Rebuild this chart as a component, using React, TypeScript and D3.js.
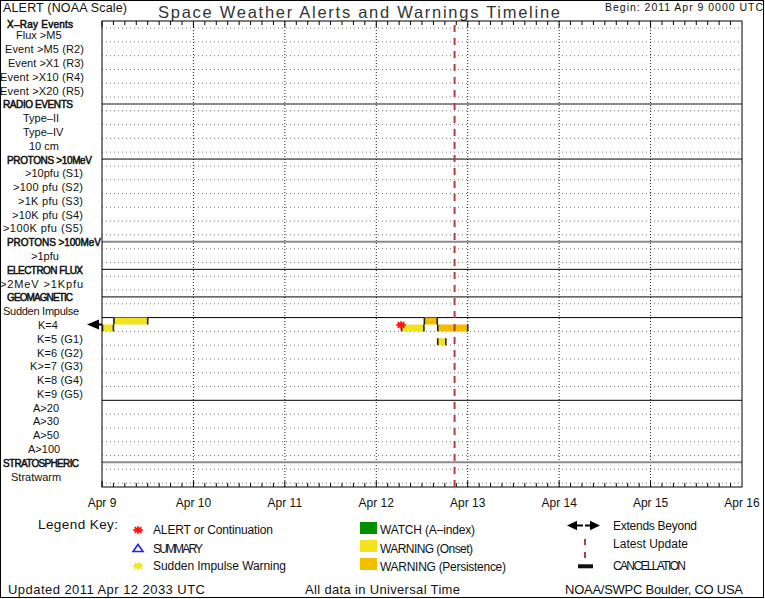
import React from "react";
import * as d3 from "d3";

// ---------- data ----------
const rowLabels = [
  "X\u2013Ray Events", "Flux >M5", "Event >M5 (R2)", "Event >X1 (R3)", "Event >X10 (R4)", "Event >X20 (R5)",
  "RADIO EVENTS", "Type\u2013II", "Type\u2013IV", "10 cm",
  "PROTONS >10MeV", ">10pfu (S1)", ">100 pfu (S2)", ">1K pfu (S3)", ">10K pfu (S4)", ">100K pfu (S5)",
  "PROTONS >100MeV", ">1pfu",
  "ELECTRON FLUX", ">2MeV >1Kpfu",
  "GEOMAGNETIC", "Sudden Impulse", "K=4", "K=5 (G1)", "K=6 (G2)", "K>=7 (G3)", "K=8 (G4)", "K=9 (G5)",
  "A>20", "A>30", "A>50", "A>100",
  "STRATOSPHERIC", "Stratwarm",
];
const headerLabels = ["X\u2013Ray Events", "RADIO EVENTS", "PROTONS >10MeV", "PROTONS >100MeV", "ELECTRON FLUX", "GEOMAGNETIC", "STRATOSPHERIC"];
const dayLabels = ["Apr 9", "Apr 10", "Apr 11", "Apr 12", "Apr 13", "Apr 14", "Apr 15", "Apr 16"];
const timelineStart = "2011-04-09T00:00:00Z";
const timelineEnd = "2011-04-16T00:00:00Z";
const latestUpdate = "2011-04-12T20:33:00Z";

// warnings: row, start, end, half of row, kind
const warnRows = ["K=4", "K=4", "K=4", "K=4", "K=4", "K=5 (G1)"];
const warnStarts = ["2011-04-08T21:00:00Z", "2011-04-09T03:00:00Z", "2011-04-12T06:30:00Z", "2011-04-12T12:30:00Z", "2011-04-12T16:00:00Z", "2011-04-12T16:00:00Z"];
const warnEnds = ["2011-04-09T03:00:00Z", "2011-04-09T12:00:00Z", "2011-04-12T12:30:00Z", "2011-04-12T16:00:00Z", "2011-04-13T00:00:00Z", "2011-04-12T18:15:00Z"];
const warnHalves = ["lower", "upper", "lower", "upper", "lower", "lower"];
const warnKinds = ["onset", "onset", "onset", "persistence", "persistence", "onset"];

const alertRows = ["K=4"];
const alertTimes = ["2011-04-12T06:30:00Z"];

// ---------- layout / style (not data) ----------
// [start x, width or 0 for natural width]
const labelLayout: [number, number][] = [
  [7, 66], [16, 0], [5, 79], [8, 76], [0, 84], [0, 84],
  [3, 70], [23, 0], [23, 0], [29, 0],
  [7, 85], [25, 58], [13, 70], [18, 65], [12, 71], [3, 80],
  [7, 94], [31, 0],
  [7, 76], [0, 83],
  [7, 66], [3, 76], [38, 0], [37, 46], [37, 46], [30, 53], [37, 46], [37, 46],
  [33, 0], [33, 0], [33, 0], [28, 0],
  [3, 76], [11, 0],
];
const grayCenterLines = ["RADIO EVENTS", "PROTONS >100MeV", "STRATOSPHERIC"];
const blackCenterLines = ["PROTONS >10MeV", "ELECTRON FLUX", "GEOMAGNETIC"];
const blackTopLines = ["K=4", "A>20"];

const COLORS: Record<string, string> = {
  onset: "#f2e31e",
  persistence: "#f2bf00",
  watch: "#009000",
  alert: "#ff1010",
  summary: "#2020ff",
  si: "#f2e31e",
  update: "#b43c3c",
};
const FONT = "'Liberation Sans', Arial, Helvetica, sans-serif";

const W = 765, H = 599;
const PL = 102, PR = 742, PT = 21, PB = 487;

function Asterisk({ cx, cy, color, r = 4.8 }: { cx: number; cy: number; color: string; r?: number }) {
  const angles = [0, 45, 90, 135];
  return (
    <g stroke={color} strokeWidth={1.8}>
      {angles.map((a) => {
        const rad = (a * Math.PI) / 180;
        const dx = Math.cos(rad) * r, dy = Math.sin(rad) * r * 0.8;
        return <line key={a} x1={cx - dx} y1={cy - dy} x2={cx + dx} y2={cy + dy} />;
      })}
    </g>
  );
}

export default function App() {
  const x = d3.scaleUtc().domain([new Date(timelineStart), new Date(timelineEnd)]).range([PL, PR]);
  const y = d3.scaleLinear().domain([0, rowLabels.length]).range([14.3, 14.3 + 13.786 * rowLabels.length]);
  const rowIdx = (name: string) => rowLabels.indexOf(name);
  const rowTop = (name: string) => y(rowIdx(name));
  const rowMid = (name: string) => y(rowIdx(name) + 0.5);
  const rowBot = (name: string) => y(rowIdx(name) + 1);

  const hourTicks = d3.utcHour.every(3)!.range(new Date(timelineStart), new Date(timelineEnd));
  const dayTicks = d3.utcDay.range(new Date(timelineStart), d3.utcDay.offset(new Date(timelineEnd), 1));

  const solidBottoms = blackTopLines.map((n) => rowIdx(n) - 1);

  const warnings = warnRows.map((r, i) => ({
    row: r, start: new Date(warnStarts[i]), end: new Date(warnEnds[i]), half: warnHalves[i], kind: warnKinds[i],
  }));
  const domainStart = new Date(timelineStart);

  return (
    <svg width={W} height={H} style={{ position: "absolute", left: 0, top: 0, background: "#fff" }} fontFamily={FONT}>
      <rect x={0} y={0} width={W} height={H} fill="#fff" />
      <rect x={0.5} y={0.5} width={763} height={597} fill="none" stroke="#000" strokeWidth={1} />

      {/* header texts */}
      <text x={3} y={12} fontSize={12.5} textLength={124} lengthAdjust="spacing" fill="#111">ALERT (NOAA Scale)</text>
      <text x={158} y={18} fontSize={16.5} textLength={402} lengthAdjust="spacing" fill="#333">Space Weather Alerts and Warnings Timeline</text>
      <text x={605} y={10.5} fontSize={10.5} textLength={158} lengthAdjust="spacing" fill="#111">Begin: 2011 Apr 9 0000 UTC</text>

      {/* horizontal dotted row lines */}
      {rowLabels.map((lab, i) =>
        solidBottoms.includes(i) ? null : (
          <line key={"d" + i} x1={PL} x2={PR} y1={y(i + 1)} y2={y(i + 1)} stroke="#777" strokeWidth={1} strokeDasharray="1,3" />
        )
      )}
      {/* vertical day grid */}
      {dayTicks.slice(1, -1).map((d, i) => (
        <line key={"v" + i} x1={x(d)} x2={x(d)} y1={PT} y2={PB} stroke="#222" strokeWidth={1} strokeDasharray="1,2" />
      ))}

      {/* section lines */}
      {grayCenterLines.map((n) => (
        <line key={"g" + n} x1={PL} x2={PR} y1={rowMid(n)} y2={rowMid(n)} stroke="#8a8a8a" strokeWidth={2} />
      ))}
      {blackCenterLines.map((n) => (
        <line key={"b" + n} x1={PL} x2={PR} y1={rowMid(n)} y2={rowMid(n)} stroke="#000" strokeWidth={1} />
      ))}
      {blackTopLines.map((n) => (
        <line key={"t" + n} x1={PL} x2={PR} y1={rowTop(n)} y2={rowTop(n)} stroke="#000" strokeWidth={1} />
      ))}

      {/* frame */}
      <rect x={PL} y={PT} width={PR - PL} height={PB - PT} fill="none" stroke="#000" strokeWidth={1} />

      {/* ticks */}
      {hourTicks.map((d, i) => {
        const isDay = d.getUTCHours() === 0;
        const len = isDay ? 6 : 4;
        return (
          <g key={"k" + i}>
            <line x1={x(d)} x2={x(d)} y1={PT} y2={PT + len} stroke="#000" strokeWidth={1} />
            <line x1={x(d)} x2={x(d)} y1={PB} y2={PB - len} stroke="#000" strokeWidth={1} />
          </g>
        );
      })}

      {/* warnings */}
      {warnings.map((w, i) => {
        const s = w.start < domainStart ? domainStart : w.start;
        const x0 = x(s), x1 = x(w.end);
        const y0 = w.half === "upper" ? rowTop(w.row) : rowMid(w.row);
        const y1 = w.half === "upper" ? rowMid(w.row) : rowBot(w.row);
        return (
          <g key={"w" + i}>
            <rect x={x0} y={y0} width={x1 - x0} height={y1 - y0} fill={COLORS[w.kind]} />
            <line x1={x0 + 0.5} x2={x0 + 0.5} y1={y0} y2={y1} stroke="#222" strokeWidth={1.6} />
            <line x1={x1} x2={x1} y1={y0} y2={y1} stroke="#222" strokeWidth={1.6} />
            {w.start < domainStart && (
              <g>
                <path d={`M${x0 - 15},${rowMid(w.row)} L${x0 - 3},${rowMid(w.row) - 5} L${x0 - 3},${rowMid(w.row) + 5} Z`} fill="#000" />
                <line x1={x0 - 4} x2={x0} y1={rowMid(w.row)} y2={rowMid(w.row)} stroke="#000" strokeWidth={2} />
              </g>
            )}
          </g>
        );
      })}

      {/* alerts */}
      {alertRows.map((r, i) => (
        <Asterisk key={"a" + i} cx={x(new Date(alertTimes[i]))} cy={rowMid(r) + 0.5} color={COLORS.alert} />
      ))}

      {/* latest update */}
      <line x1={x(new Date(latestUpdate))} x2={x(new Date(latestUpdate))} y1={PT} y2={PB} stroke={COLORS.update} strokeWidth={2} strokeDasharray="7,6" strokeDashoffset={-4} />

      {/* row labels */}
      {rowLabels.map((lab, i) => {
        const [a, wd] = labelLayout[i];
        const bold = headerLabels.includes(lab);
        const yy = i === 0 ? 28.3 : y(i + 0.5) + 4.5;
        const extra = wd > 0 ? { textLength: wd, lengthAdjust: "spacing" } : {};
        const boldStyle = bold ? { stroke: "#111", strokeWidth: 0.5 } : {};
        return (
          <text key={"l" + i} x={a} y={yy} fontSize={bold ? 10 : 11} fill="#111" {...boldStyle} {...extra}>
            {lab}
          </text>
        );
      })}

      {/* day labels */}
      {dayLabels.map((lab, i) => (
        <text key={"x" + i} x={x(dayTicks[i])} y={507} fontSize={12} textAnchor="middle" fill="#111">{lab}</text>
      ))}

      {/* legend */}
      <text x={38} y={528.5} fontSize={13.5} textLength={80} lengthAdjust="spacing" fill="#111">Legend Key:</text>
      <Asterisk cx={138} cy={530} color={COLORS.alert} />
      <text x={153} y={533.5} fontSize={12} textLength={120} lengthAdjust="spacing" fill="#111">ALERT or Continuation</text>
      <path d="M138,544.5 L143,551.5 L133,551.5 Z" fill="none" stroke={COLORS.summary} strokeWidth={1.6} />
      <text x={153} y={552.5} fontSize={12} textLength={50} lengthAdjust="spacing" fill="#111">SUMMARY</text>
      <Asterisk cx={138} cy={566} color={COLORS.si} />
      <text x={153} y={570.3} fontSize={12} textLength={133} lengthAdjust="spacing" fill="#111">Sudden Impulse Warning</text>

      <rect x={360} y={522} width={17} height={12} fill={COLORS.watch} />
      <text x={380} y={533.8} fontSize={12} textLength={95} lengthAdjust="spacing" fill="#111">WATCH (A{"\u2013"}index)</text>
      <rect x={360} y={540} width={17} height={12} fill={COLORS.onset} />
      <text x={380} y={552.5} fontSize={12} textLength={93} lengthAdjust="spacing" fill="#111">WARNING (Onset)</text>
      <rect x={360} y={558} width={17} height={12} fill={COLORS.persistence} />
      <text x={380} y={570.5} fontSize={12} textLength={126} lengthAdjust="spacing" fill="#111">WARNING (Persistence)</text>

      <path d="M567,525.5 L577,520.8 L577,530.2 Z" fill="#000" />
      <line x1={576} x2={583} y1={525.5} y2={525.5} stroke="#000" strokeWidth={2} />
      <path d="M600,525.5 L590,520.8 L590,530.2 Z" fill="#000" />
      <line x1={585} x2={591} y1={525.5} y2={525.5} stroke="#000" strokeWidth={2} />
      <text x={613} y={530} fontSize={12} textLength={84} lengthAdjust="spacing" fill="#111">Extends Beyond</text>
      <line x1={585} x2={585} y1={539} y2={559} stroke={COLORS.update} strokeWidth={2} strokeDasharray="6,7" />
      <text x={613} y={548.3} fontSize={12} textLength={75} lengthAdjust="spacing" fill="#111">Latest Update</text>
      <rect x={578} y={564.3} width={15} height={4} fill="#111" />
      <text x={613} y={570} fontSize={12} textLength={73} lengthAdjust="spacing" fill="#111">CANCELLATION</text>

      {/* footer */}
      <text x={8} y={594} fontSize={13} textLength={197} lengthAdjust="spacing" fill="#111">Updated 2011 Apr 12 2033 UTC</text>
      <text x={305} y={594} fontSize={13} textLength={155} lengthAdjust="spacing" fill="#111">All data in Universal Time</text>
      <text x={565} y={594} fontSize={13} textLength={178} lengthAdjust="spacing" fill="#111">NOAA/SWPC Boulder, CO USA</text>
    </svg>
  );
}
